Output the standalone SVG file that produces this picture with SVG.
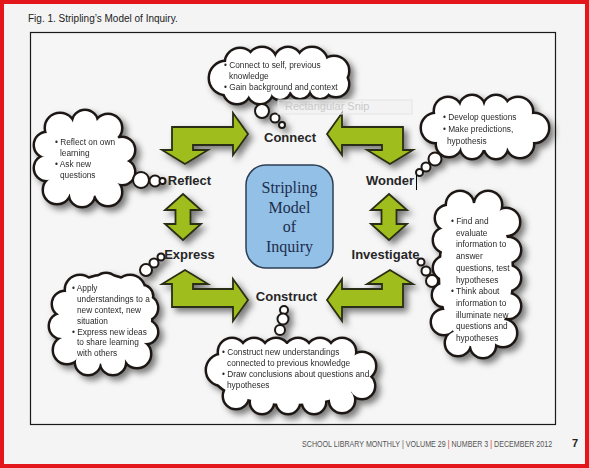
<svg xmlns="http://www.w3.org/2000/svg" xmlns:xlink="http://www.w3.org/1999/xlink" width="589" height="468" viewBox="0 0 589 468">
<style>
.co{fill:#fff;stroke:#1c1612;stroke-width:5}
.cf{fill:#fff;stroke:none}
.bub{fill:#fff;stroke:#1c1612;stroke-width:2}
.arr{fill:#9fbd1d;stroke:#2b2d12;stroke-width:1.8;stroke-linejoin:miter}
.ct{font-family:"Liberation Sans",Arial,sans-serif;font-size:8.3px;fill:#2a2a2a}
.lbl{font-family:"Liberation Sans",Arial,sans-serif;font-size:13px;font-weight:bold;fill:#262626;text-anchor:middle}
.mid{font-family:"Liberation Serif","Times New Roman",serif;font-size:16px;fill:#1e2d4d;text-anchor:middle}
</style>
<defs>
<filter id="sh" x="-20%" y="-20%" width="150%" height="150%">
<feDropShadow dx="4" dy="4" stdDeviation="3" flood-color="#000" flood-opacity="0.5"/>
</filter>
<g id="cA">
<ellipse cx="280" cy="75" rx="60" ry="17"/>
<circle cx="226" cy="78" r="16"/><circle cx="240" cy="63" r="14"/><circle cx="262" cy="62" r="14"/><circle cx="288" cy="61" r="13"/><circle cx="312" cy="63" r="15"/><circle cx="334" cy="71" r="14"/><circle cx="336" cy="84" r="12"/><circle cx="320" cy="88" r="10"/><circle cx="300" cy="88" r="10"/><circle cx="280" cy="89" r="10"/><circle cx="260" cy="91" r="12"/><circle cx="237" cy="90" r="13"/>
</g>
<g id="cB">
<ellipse cx="85" cy="159" rx="40" ry="38"/>
<circle cx="60" cy="128" r="14"/><circle cx="85" cy="123" r="12"/><circle cx="108" cy="128" r="13"/><circle cx="122" cy="150" r="12"/><circle cx="122" cy="172" r="12"/><circle cx="108" cy="192" r="13"/><circle cx="82" cy="194" r="12"/><circle cx="57" cy="190" r="13"/><circle cx="47" cy="168" r="12"/><circle cx="47" cy="145" r="12"/>
</g>
<g id="cC">
<ellipse cx="485" cy="128" rx="52" ry="22"/>
<circle cx="436" cy="128" r="14"/><circle cx="448" cy="111" r="13"/><circle cx="472" cy="108" r="12"/><circle cx="496" cy="108" r="12"/><circle cx="518" cy="112" r="14"/><circle cx="534" cy="128" r="14"/><circle cx="520" cy="144" r="13"/><circle cx="496" cy="147" r="11"/><circle cx="472" cy="147" r="11"/><circle cx="449" cy="144" r="12"/>
</g>
<g id="cD">
<ellipse cx="476" cy="275" rx="36" ry="72"/>
<circle cx="460" cy="205" r="13"/><circle cx="488" cy="205" r="13"/><circle cx="506" cy="222" r="13"/><circle cx="508" cy="250" r="12"/><circle cx="508" cy="278" r="12"/><circle cx="508" cy="306" r="12"/><circle cx="503" cy="333" r="13"/><circle cx="483" cy="345" r="12"/><circle cx="458" cy="343" r="12"/><circle cx="444" cy="322" r="12"/><circle cx="444" cy="295" r="11"/><circle cx="445" cy="268" r="11"/><circle cx="446" cy="240" r="12"/><circle cx="448" cy="218" r="12"/>
</g>
<g id="cE">
<ellipse cx="105" cy="320" rx="46" ry="44"/>
<circle cx="80" cy="290" r="14"/><circle cx="106" cy="286" r="12"/><circle cx="130" cy="290" r="14"/><circle cx="142" cy="296" r="10"/><circle cx="145" cy="308" r="12"/><circle cx="146" cy="332" r="11"/><circle cx="137" cy="354" r="13"/><circle cx="113" cy="362" r="12"/><circle cx="88" cy="362" r="12"/><circle cx="67" cy="350" r="13"/><circle cx="62" cy="326" r="12"/><circle cx="65" cy="304" r="12"/>
</g>
<g id="cF">
<ellipse cx="290" cy="374" rx="76" ry="30"/>
<circle cx="222" cy="370" r="15"/><circle cx="232" cy="352" r="13"/><circle cx="254" cy="352" r="13"/><circle cx="276" cy="352" r="13"/><circle cx="298" cy="352" r="13"/><circle cx="320" cy="352" r="13"/><circle cx="342" cy="352" r="13"/><circle cx="362" cy="366" r="13"/><circle cx="362" cy="386" r="12"/><circle cx="342" cy="400" r="12"/><circle cx="314" cy="402" r="11"/><circle cx="288" cy="402" r="11"/><circle cx="262" cy="402" r="11"/><circle cx="236" cy="396" r="12"/>
</g>
</defs>

<rect x="0" y="0" width="589" height="468" fill="#f4f4f4"/>
<rect x="30.5" y="32.5" width="525" height="392" fill="#f6f6f6" stroke="#1a1a1a" stroke-width="1.2"/>
<text x="28" y="22" font-family="Liberation Sans, Arial, sans-serif" font-size="10" fill="#222">Fig. 1. Stripling’s Model of Inquiry.</text>

<g id="connectors" filter="url(#sh)">
<path class="arr" d="M172,127 L233,127 L233,113 L248,134 L233,155 L233,145 L193,145 L193,150 L208,150 L185,164 L162,150 L172,150 Z"/>
<path class="arr" d="M403,127 L342,127 L342,113 L327,134 L342,155 L342,145 L382,145 L382,150 L367,150 L390,164 L413,150 L403,150 Z"/>
<path class="arr" d="M172,307 L233,307 L233,321 L248,300 L233,279 L233,289 L193,289 L193,284 L208,284 L185,270 L162,284 L172,284 Z"/>
<path class="arr" d="M403,307 L342,307 L342,321 L327,300 L342,279 L342,289 L382,289 L382,284 L367,284 L390,270 L413,284 L403,284 Z"/>
<path class="arr" d="M183,194 L201,210 L190.5,210 L190.5,224 L201,224 L183,240 L165,224 L175.5,224 L175.5,210 L165,210 Z"/>
<path class="arr" d="M389,194 L407,210 L396.5,210 L396.5,224 L407,224 L389,240 L371,224 L381.5,224 L381.5,210 L371,210 Z"/>
</g>

<g id="cloud-connect" filter="url(#sh)">
<use href="#cA" class="co"/><use href="#cA" class="cf"/>
<circle class="bub" cx="262" cy="111" r="7"/><circle class="bub" cx="275" cy="118" r="4.5"/><circle class="bub" cx="282" cy="125" r="3"/>
<text class="ct"><tspan x="224" y="68">• Connect to self, previous</tspan><tspan x="229" y="79">knowledge</tspan><tspan x="224" y="90">• Gain background and context</tspan></text>
</g>

<g id="snip-artifact">
<rect x="278" y="100" width="134" height="14" fill="#f1f1f1" fill-opacity="0.6" stroke="#e4e4e4"/>
<text x="285" y="110" font-family="Liberation Sans, Arial, sans-serif" font-size="11" fill="#c9c9c9">Rectangular Snip</text>
</g>

<g id="cloud-reflect" filter="url(#sh)">
<use href="#cB" class="co"/><use href="#cB" class="cf"/>
<circle class="bub" cx="141" cy="180" r="8"/><circle class="bub" cx="155" cy="181" r="5.5"/><circle class="bub" cx="162.5" cy="181" r="3"/>
<text class="ct"><tspan x="55" y="145">• Reflect on own</tspan><tspan x="60" y="156">learning</tspan><tspan x="55" y="167">• Ask new</tspan><tspan x="60" y="178">questions</tspan></text>
</g>

<g id="cloud-wonder" filter="url(#sh)">
<use href="#cC" class="co"/><use href="#cC" class="cf"/>
<circle class="bub" cx="435" cy="159" r="6.5"/><circle class="bub" cx="426" cy="167" r="4.5"/><circle class="bub" cx="419.5" cy="172.5" r="3.5"/>
<text class="ct"><tspan x="443" y="120">• Develop questions</tspan><tspan x="443" y="132">• Make predictions,</tspan><tspan x="447" y="144">hypothesis</tspan></text>
</g>

<g id="cloud-investigate" filter="url(#sh)">
<use href="#cD" class="co"/><use href="#cD" class="cf"/>
<circle class="bub" cx="421" cy="262" r="3.5"/><circle class="bub" cx="426" cy="271" r="4.5"/><circle class="bub" cx="432" cy="281" r="6"/>
<text class="ct"><tspan x="451" y="224">• Find and</tspan><tspan x="456" y="235.7">evaluate</tspan><tspan x="456" y="247.4">information to</tspan><tspan x="456" y="259.1">answer</tspan><tspan x="456" y="270.8">questions, test</tspan><tspan x="456" y="282.5">hypotheses</tspan><tspan x="451" y="294.2">• Think about</tspan><tspan x="456" y="305.9">information to</tspan><tspan x="456" y="317.6">illuminate new</tspan><tspan x="456" y="329.3">questions and</tspan><tspan x="456" y="341">hypotheses</tspan></text>
</g>

<g id="cloud-express" filter="url(#sh)">
<use href="#cE" class="co"/><use href="#cE" class="cf"/>
<circle class="bub" cx="161" cy="257" r="3.5"/><circle class="bub" cx="154" cy="263" r="4.5"/><circle class="bub" cx="146" cy="270" r="6"/>
<text class="ct"><tspan x="72" y="291">• Apply</tspan><tspan x="77" y="302">understandings to a</tspan><tspan x="77" y="313">new context, new</tspan><tspan x="77" y="324">situation</tspan><tspan x="72" y="334.5">• Express new ideas</tspan><tspan x="77" y="345">to share learning</tspan><tspan x="77" y="356">with others</tspan></text>
</g>

<g id="cloud-construct" filter="url(#sh)">
<use href="#cF" class="co"/><use href="#cF" class="cf"/>
<circle class="bub" cx="284" cy="310" r="4"/><circle class="bub" cx="283" cy="319" r="5.5"/><circle class="bub" cx="280" cy="330" r="5"/>
<text class="ct"><tspan x="222" y="355">• Construct new understandings</tspan><tspan x="227" y="366">connected to previous knowledge</tspan><tspan x="222" y="376.5">• Draw conclusions about questions and</tspan><tspan x="227" y="388">hypotheses</tspan></text>
</g>

<g id="labels">
<text id="connect" class="lbl" x="290" y="142">Connect</text>
<text id="reflect" class="lbl" x="189.5" y="185">Reflect</text>
<text id="wonder" class="lbl" x="390" y="185">Wonder</text>
<text id="express" class="lbl" x="189.5" y="259">Express</text>
<text id="investigate" class="lbl" x="385.5" y="259">Investigate</text>
<text id="construct" class="lbl" x="286.5" y="301">Construct</text>
</g>
<line x1="416.5" y1="175" x2="416.5" y2="190" stroke="#000" stroke-width="1"/>

<g id="center">
<rect x="246" y="165" width="87" height="103" rx="20" fill="#92c0e6" stroke="#2c3e55" stroke-width="1.5"/>
<text class="mid"><tspan x="289.5" y="193">Stripling</tspan><tspan x="289.5" y="213">Model</tspan><tspan x="289.5" y="232">of</tspan><tspan x="289.5" y="252">Inquiry</tspan></text>
</g>

<g id="footer">
<g transform="translate(302,447) scale(0.79,1)">
<text x="0" y="0" font-family="Liberation Sans, Arial, sans-serif" font-size="9" fill="#555">SCHOOL LIBRARY MONTHLY | VOLUME 29 <tspan fill="#d9252b">|</tspan> NUMBER 3 <tspan fill="#d9252b">|</tspan> DECEMBER 2012</text>
</g>
<text x="572" y="447" font-family="Liberation Sans, Arial, sans-serif" font-size="11" font-weight="bold" fill="#222">7</text>
</g>
<rect x="2" y="2" width="585" height="464" fill="none" stroke="#e3161c" stroke-width="4"/>
</svg>
